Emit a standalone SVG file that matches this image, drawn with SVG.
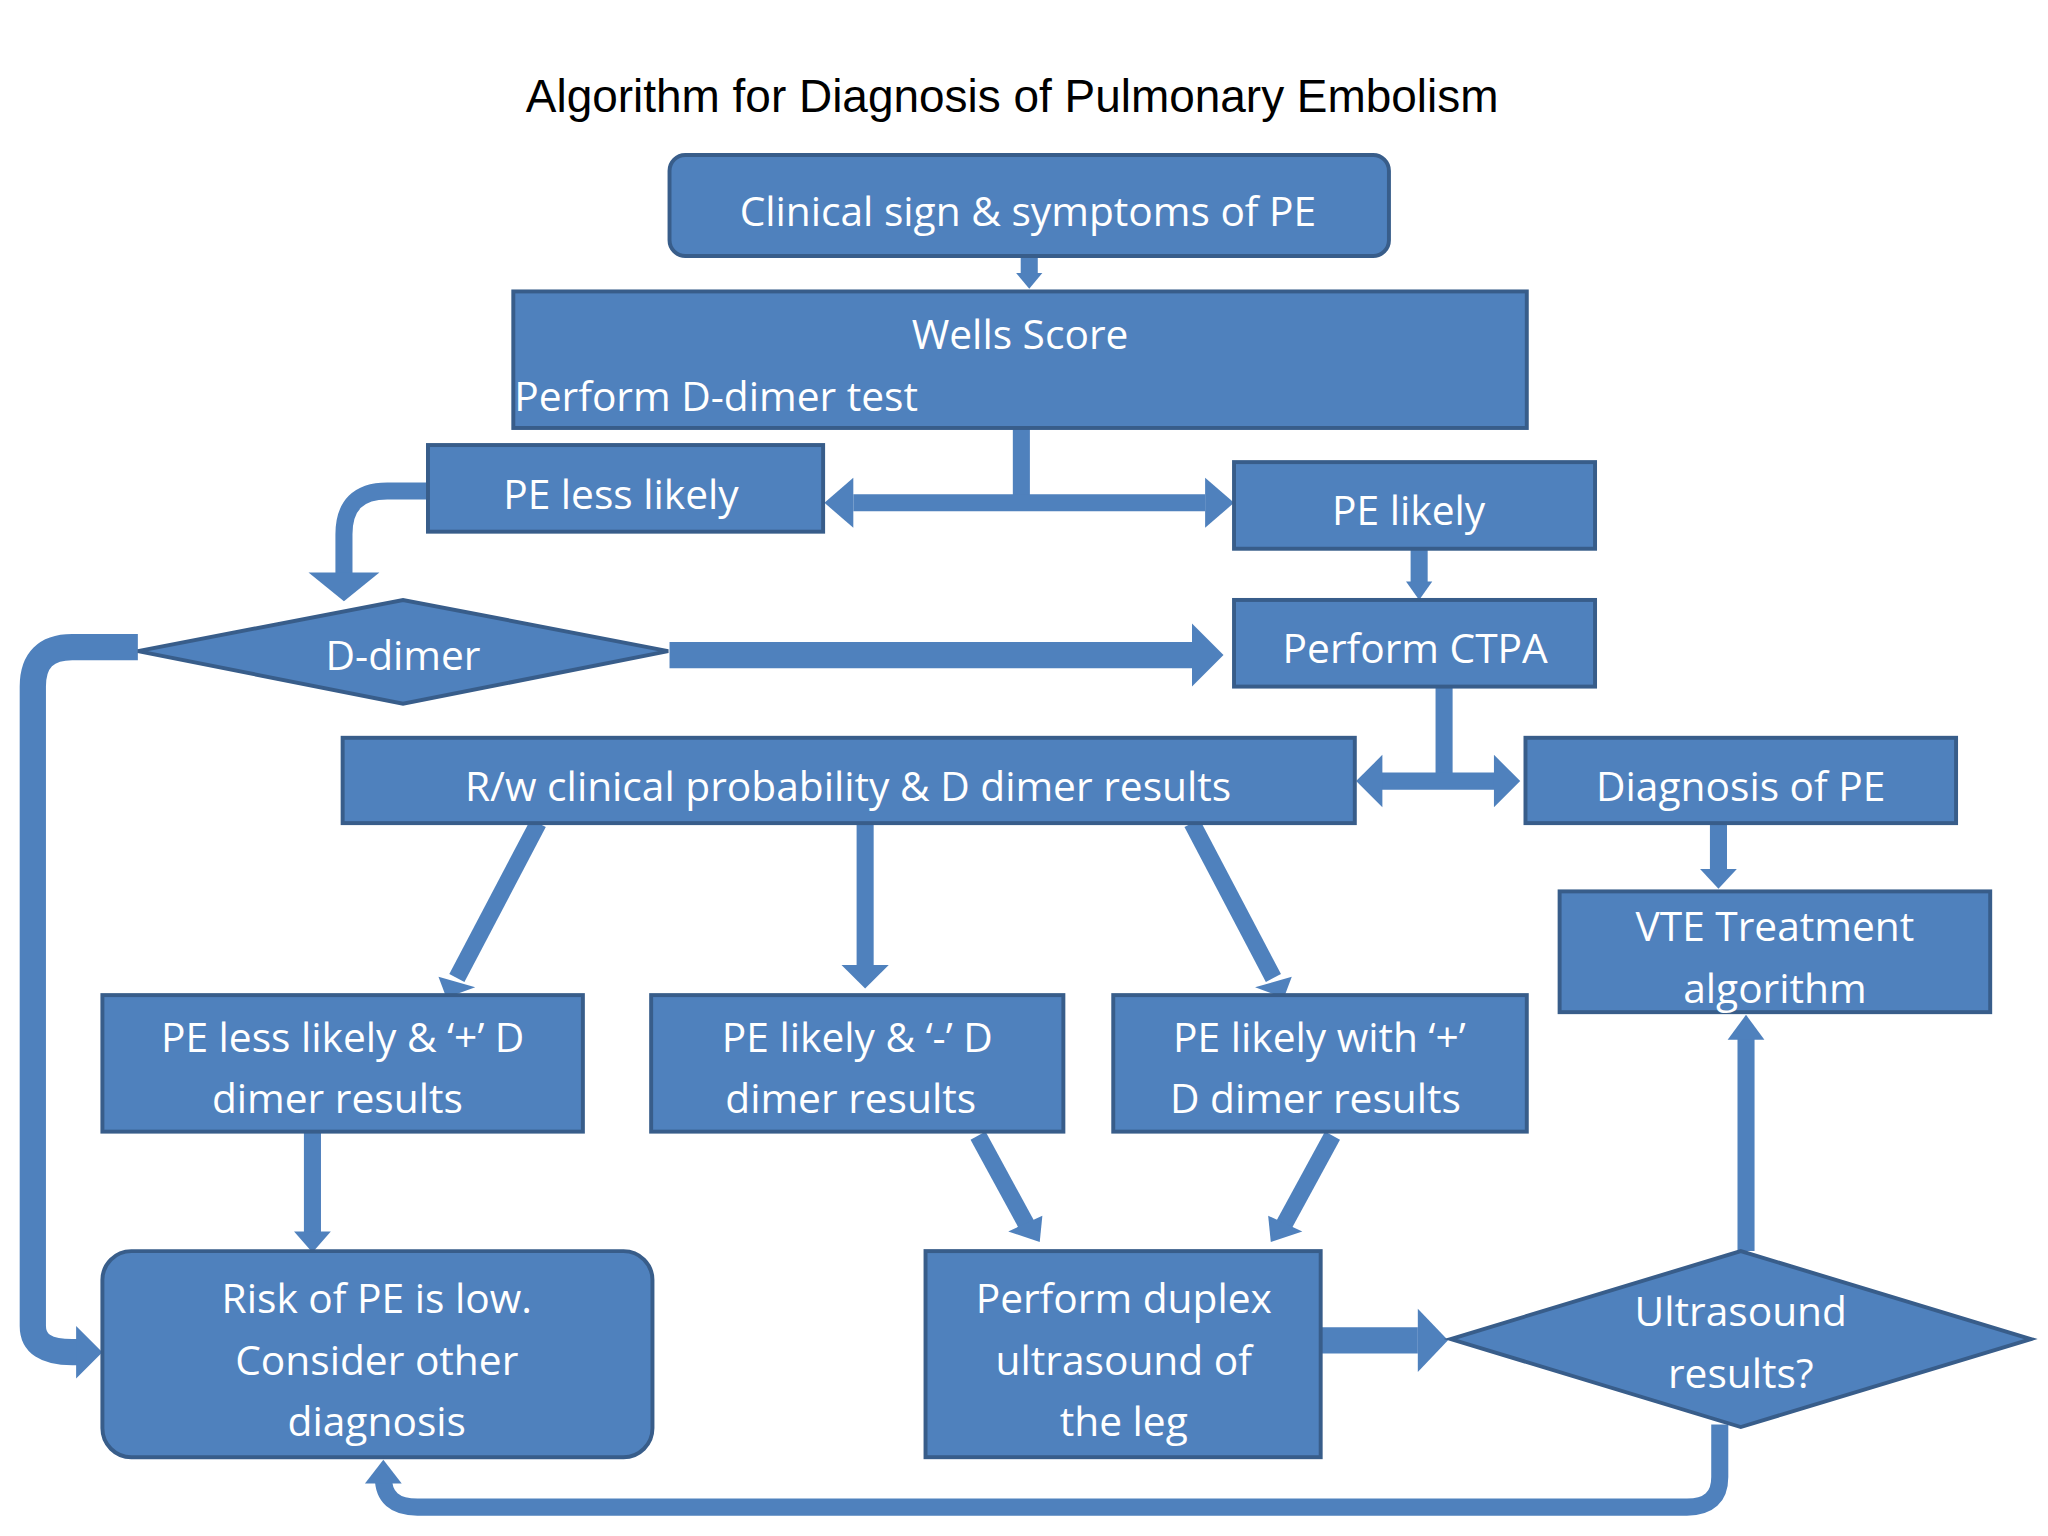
<svg xmlns="http://www.w3.org/2000/svg" width="2048" height="1536" viewBox="0 0 2048 1536">
<style>
.n{fill:#4F81BD;stroke:#385D8A;stroke-width:3}
.t{fill:#fff;font-family:"Open Sans","Liberation Sans",sans-serif;font-size:31px;text-anchor:middle}
.c{fill:none;stroke:#4F81BD;stroke-width:13}
.w{fill:none;stroke:#4F81BD;stroke-width:20}
.h{fill:#4F81BD}
</style>
<rect width="2048" height="1536" fill="#fff"/>
<g transform="scale(1.3128)">
<text x="771" y="85" font-family="Liberation Sans,Arial,sans-serif" font-size="35" text-anchor="middle" fill="#000">Algorithm for Diagnosis of Pulmonary Embolism</text>
<g id="connectors">
<path class="c" d="M784 195V210"/><polygon class="h" points="774,208 794,208 784,220"/>
<path class="c" d="M778 326V383"/>
<path class="c" d="M650 383H918"/>
<polygon class="h" points="628,383 650,364 650,402"/><polygon class="h" points="940,383 918,364 918,402"/>
<path class="c" d="M326 374H295Q262 374 262 407V438"/><polygon class="h" points="235,436 289,436 262,458"/>
<path class="w" d="M510 499H910"/><polygon class="h" points="932,499 908,475 908,523"/>
<path class="c" d="M1081 418V445"/><polygon class="h" points="1071,443 1091,443 1081,457"/>
<path class="c" d="M1100 523V595"/>
<path class="c" d="M1052 595H1140"/>
<polygon class="h" points="1033,595 1053,575 1053,615"/><polygon class="h" points="1158,595 1138,575 1138,615"/>
<path class="c" d="M1309 627V664"/><polygon class="h" points="1295,662 1323,662 1309,677"/>
<path class="c" d="M410 627L348 745"/><polygon class="h" points="334,744 362,752 340,760"/>
<path class="c" d="M659 627V737"/><polygon class="h" points="641,735 677,735 659,753"/>
<path class="c" d="M908 627L970 745"/><polygon class="h" points="956,752 984,744 978,760"/>
<path class="c" d="M238 862V940"/><polygon class="h" points="224,938 252,938 238,954"/>
<path class="c" d="M745 865L782 933"/><polygon class="h" points="768,938 794,926 792,946"/>
<path class="c" d="M1015 865L978 933"/><polygon class="h" points="966,926 992,938 968,946"/>
<path class="w" d="M1006 1021H1080"/><polygon class="h" points="1103,1021 1080,997 1080,1045"/>
<path class="c" d="M1330 953V790"/><polygon class="h" points="1316,792 1344,792 1330,773"/>
<path class="c" d="M1310 1085V1125Q1310 1148 1285 1148H318Q292 1148 292 1125V1125"/><polygon class="h" points="278,1130 306,1130 292,1112"/>
<path class="w" d="M105 493H55Q25 493 25 523V1010Q25 1030 55 1030H60"/><polygon class="h" points="78,1030 58,1010 58,1050"/>
</g>
<g id="n1"><rect class="n" x="510" y="118" width="548" height="77" rx="12"/><text class="t" x="783" y="172">Clinical sign  &amp; symptoms of PE</text></g>
<g id="n2"><rect class="n" x="391" y="222" width="772" height="104"/><text class="t" x="777" y="266">Wells Score</text><text class="t" x="408" y="313" text-anchor="start">Start heparin  if &gt;6, Perform D-dimer test</text></g>
<g id="n3"><rect class="n" x="326" y="339" width="301" height="66"/><text class="t" x="473" y="388">PE less likely</text></g>
<g id="n4"><rect class="n" x="940" y="352" width="275" height="66"/><text class="t" x="1073" y="400">PE likely</text></g>
<g id="n5"><polygon class="n" points="105,496 307,457 509,496 307,536"/><text class="t" x="307" y="510">D-dimer</text></g>
<g id="n6"><rect class="n" x="940" y="457" width="275" height="66"/><text class="t" x="1078" y="505">Perform CTPA</text></g>
<g id="n7"><rect class="n" x="261" y="562" width="771" height="65"/><text class="t" x="646" y="610">R/w clinical probability &amp; D dimer results</text></g>
<g id="n8"><rect class="n" x="1162" y="562" width="328" height="65"/><text class="t" x="1326" y="610">Diagnosis  of PE</text></g>
<g id="n9"><rect class="n" x="1188" y="679" width="328" height="92"/><text class="t" x="1352" y="717">VTE Treatment</text><text class="t" x="1352" y="764">algorithm</text></g>
<g id="n10"><rect class="n" x="78" y="758" width="366" height="104"/><text class="t" x="261" y="801">PE  less likely &amp; ‘+’ D</text><text class="t" x="257" y="848">dimer results</text></g>
<g id="n11"><rect class="n" x="496" y="758" width="314" height="104"/><text class="t" x="653" y="801">PE  likely &amp; ‘-’ D</text><text class="t" x="648" y="848">dimer results</text></g>
<g id="n12"><rect class="n" x="848" y="758" width="315" height="104"/><text class="t" x="1005" y="801">PE  likely  with ‘+’</text><text class="t" x="1002" y="848">D dimer results</text></g>
<g id="n13"><rect class="n" x="78" y="953" width="419" height="157" rx="22"/><text class="t" x="287" y="1000">Risk of PE is low.</text><text class="t" x="287" y="1047">Consider other</text><text class="t" x="287" y="1094">diagnosis</text></g>
<g id="n14"><rect class="n" x="705" y="953" width="301" height="157"/><text class="t" x="856" y="1000">Perform duplex</text><text class="t" x="856" y="1047">ultrasound of</text><text class="t" x="856" y="1094">the leg</text></g>
<g id="n15"><polygon class="n" points="1105,1020 1326,953 1547,1020 1326,1087"/><text class="t" x="1326" y="1010">Ultrasound</text><text class="t" x="1326" y="1057">results?</text></g>
</g>
</svg>
